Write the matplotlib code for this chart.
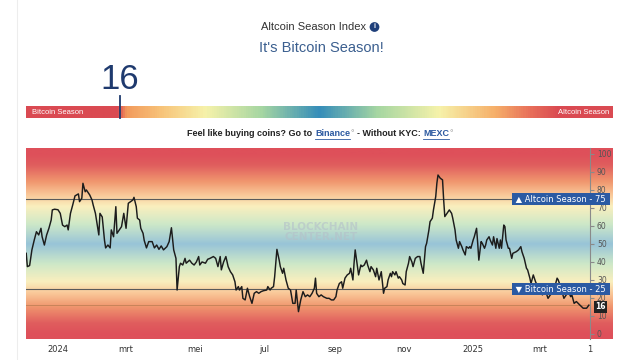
import numpy as np
import pandas as pd
import matplotlib
matplotlib.use("Agg")
import matplotlib.pyplot as plt
import matplotlib.transforms as mtransforms
from matplotlib.colors import LinearSegmentedColormap
from matplotlib.lines import Line2D

start_date = pd.Timestamp("2024-01-01")

# days after 2024-01-01 and the index value
day_offsets = [-28, -27, -25, -23, -21, -19, -17, -15, -14, -12, -10, -8, -6, -5, -3, 0,
               2, 4, 6, 8, 9, 11, 13, 15, 18, 19, 21, 22, 24, 25, 28, 30, 31, 33, 36, 37,
               39, 41, 42, 44, 46, 47, 49, 51, 52, 54, 56, 58, 60, 62, 64, 66, 67, 69, 70,
               72, 73, 75, 76, 78, 80, 83, 85, 87, 89, 91, 93, 96, 98, 100, 102, 104, 105,
               107, 108, 110, 112, 113, 116, 118, 120, 122, 124, 125, 127, 130, 132, 134,
               137, 139, 141, 143, 144, 146, 148, 150, 152, 154, 156, 157, 159, 160, 162,
               163, 165, 167, 169, 171, 173, 175, 177, 179, 181, 184, 185, 187, 188, 190,
               191, 193, 195, 196, 198, 199, 201, 203, 205, 207, 209, 210, 212, 214, 216,
               218, 220, 222, 224, 226, 227, 228, 230, 232, 234, 237, 239, 241, 243, 245,
               246, 248, 250, 251, 253, 255, 257, 258, 260, 261, 262, 264, 265, 267, 268,
               270, 272, 273, 275, 276, 278, 280, 281, 283, 285, 287, 288, 290, 291, 293,
               294, 295, 297, 298, 300, 301, 303, 304, 306, 307, 309, 310, 312, 313, 315,
               317, 319, 320, 322, 324, 325, 327, 328, 330, 331, 333, 334, 335, 337, 339,
               340, 341, 343, 345, 347, 348, 350, 351, 353, 354, 356, 357, 359, 360, 362,
               363, 364, 366, 367, 369, 370, 371, 373, 374, 376, 377, 378, 380, 381, 383,
               384, 386, 387, 389, 390, 391, 393, 394, 395, 397, 398, 400, 401, 404, 406,
               408, 409, 411, 413, 414, 416, 417, 419, 421, 423, 425, 427, 430, 432, 434,
               436, 438, 440, 441, 443, 446, 448, 450, 452, 453, 455, 457, 460, 463, 466,
               468]
index_values = [44.8, 37.4, 38, 46.7, 52, 56.8, 55, 58.7, 54, 49.4, 55, 58.7, 63.3, 68.9,
                69.3, 69, 67, 60.5, 59.6, 60.5, 57.8, 67, 71.7, 76.7, 77.8, 73.5, 75.4, 83.7,
                79, 80, 77.2, 74.4, 71.7, 67, 55, 67, 65, 52, 47.8, 49.4, 47.8, 57.8, 54,
                70.7, 55.9, 57.8, 59.6, 67, 58.7, 72.6, 73.5, 74.4, 75.9, 70.7, 64.3, 63.3,
                58.7, 55.9, 52, 47.8, 51.3, 51.3, 47.8, 49.4, 47, 48.9, 46.7, 48.5, 51.3, 59,
                46.7, 42, 24.4, 37.4, 39.3, 38.3, 42, 39.3, 41, 39.3, 38.3, 40, 43, 38.3, 40,
                39.3, 41.5, 42, 43, 42, 37.4, 43, 35.6, 40, 43, 37.4, 34.6, 32.8, 29, 24.4,
                26.3, 24.4, 26.3, 19.8, 18.9, 25.4, 20.7, 17, 22.6, 23.5, 22.6, 23.5, 24,
                24.4, 26.3, 24.4, 25.4, 26.3, 31.8, 47, 41, 37.4, 33.7, 36.5, 30, 25.4, 24.4,
                17, 17, 24.4, 12.4, 18.9, 23.5, 20.7, 21.7, 20.7, 22.6, 25.4, 31, 22.6, 20.7,
                21.7, 20.7, 19.8, 19.8, 18.9, 18.9, 20.7, 24.4, 28, 29, 25.4, 31, 32.8, 33.7,
                36.5, 30, 39.3, 46.7, 37.4, 32.8, 38.3, 37.4, 38.3, 41, 38.3, 34.6, 37.4,
                35.6, 31.8, 36.5, 30, 34.6, 22.6, 25.4, 26.3, 30, 33.7, 31.8, 34.6, 32.8,
                34.6, 31, 31.8, 30, 28, 27.2, 34.6, 39.3, 43, 40, 37.4, 42, 43, 43, 39.3,
                33.7, 48.5, 50.4, 57.8, 62.4, 64.3, 68.9, 76.3, 83.7, 88.3, 86.5, 85.6, 74.4,
                65.2, 67, 68.9, 67, 64.3, 57.8, 52.2, 47.6, 51.3, 48.5, 46.7, 43.9, 48.5,
                47.6, 48.5, 47.6, 52.2, 54, 58.7, 50.4, 41, 51.3, 50.4, 47.6, 49.4, 52.2, 54,
                52.2, 49.4, 54, 47.6, 53, 47.6, 52.2, 47.6, 60.5, 59.6, 52.2, 47.6, 47.6, 42,
                44.8, 45.7, 46.7, 48.5, 45.7, 42, 36.5, 35.6, 31, 28, 32.8, 29, 26.3, 25.4,
                21.7, 23.5, 19.8, 21.7, 22.6, 26.3, 31, 30, 26.3, 19.8, 21.7, 23.5, 20.7,
                21.7, 17, 18, 16.1, 14.3, 14.3, 16]

current_value = 16
altcoin_level = 75
bitcoin_level = 25

tick_dates = ["2024-01-01", "2024-03-01", "2024-05-01", "2024-07-01", "2024-09-01",
              "2024-11-01", "2025-01-01", "2025-03-01", "2025-04-14"]
tick_labels = ["2024", "mrt", "mei", "jul", "sep", "nov", "2025", "mrt", "1"]
y_ticks = list(range(0, 101, 10))

W, H = 640, 360


def box(x0, y0, x1, y1):
    # pixel box (top-left origin) -> figure rect
    return [x0 / W, 1 - y1 / H, (x1 - x0) / W, (y1 - y0) / H]


fig = plt.figure(figsize=(6.4, 3.6), dpi=100)
fig.patch.set_facecolor("white")
fig.add_artist(Line2D([17 / W, 17 / W], [0, 1], color="#ededed", lw=0.8))

# ---------- header ----------
head_font = "Liberation Sans"
fig.text(366 / W, 1 - 27 / H, "Altcoin Season Index", ha="right", va="center",
         fontsize=8, color="#333333", family=head_font)
fig.text(374.5 / W, 1 - 27 / H, "i", ha="center", va="center", fontsize=5,
         color="white", weight="bold", family=head_font,
         bbox=dict(boxstyle="circle,pad=0.2", fc="#1f3f7a", ec="none"))
fig.text(321 / W, 1 - 48 / H, "It's Bitcoin Season!", ha="center", va="center",
         fontsize=10.5, color="#3b5f8f", family=head_font)

bar_cmap = LinearSegmentedColormap.from_list("bar", [
    (0.0, "#da4a52"), (0.155, "#da4a52"), (0.17, "#f29a5c"), (0.23, "#f8c47a"),
    (0.305, "#f6f2aa"), (0.40, "#a6d6a2"), (0.5, "#358dba"), (0.60, "#a6d6a2"),
    (0.705, "#f6f2aa"), (0.80, "#f6b06a"), (0.86, "#e8705a"), (0.91, "#da4a52"),
    (1.0, "#da4a52")])
ax_bar = fig.add_axes(box(26, 106, 613, 118))
ax_bar.imshow(np.linspace(0, 1, 600)[None, :], aspect="auto", cmap=bar_cmap,
              extent=[0, 100, 0, 1])
ax_bar.set_xlim(0, 100)
ax_bar.set_ylim(0, 1)
ax_bar.axis("off")
ax_bar.text(1, 0.45, "Bitcoin Season", color="white", fontsize=5.5, va="center",
            family=head_font)
ax_bar.text(99.3, 0.45, "Altcoin Season", color="white", fontsize=5.5, va="center",
            ha="right", family=head_font)
bt = mtransforms.blended_transform_factory(ax_bar.transData, ax_bar.transAxes)
ax_bar.plot([current_value, current_value], [0, 1.85], color="#1f3a6e", lw=1.3,
            transform=bt, clip_on=False)
ax_bar.text(current_value, 3.2, str(current_value), transform=bt, ha="center",
            va="center", fontsize=25, color="#1f3a6e", family=head_font)

# promo line, built piece by piece
renderer = fig.canvas.get_renderer()
pieces = [("Feel like buying coins? Go to", "#222222", False, True),
          ("Binance", "#2d5aa0", True, True),
          ("°", "#999999", False, False),
          ("- Without KYC:", "#222222", False, True),
          ("MEXC", "#2d5aa0", True, True),
          ("°", "#999999", False, False)]
gaps = [3, 0, 3, 3, 0, 0]
ypro = 1 - 134 / H
texts = []
total = 0
for (s, c, u, b), g in zip(pieces, gaps):
    t = fig.text(0, ypro, s, color=c, fontsize=6.5, weight="bold" if b else "normal",
                 va="center", family=head_font)
    w = t.get_window_extent(renderer).width
    texts.append((t, w, u))
    total += w + g
x = 320 - total / 2
for (t, w, u), g in zip(texts, gaps):
    t.set_x(x / W)
    if u:
        fig.add_artist(Line2D([x / W, (x + w) / W], [1 - 138.5 / H] * 2,
                              color="#2d5aa0", lw=0.6))
    x += w + g

# ---------- chart ----------
bg_cmap = LinearSegmentedColormap.from_list("bg", [
    (0.0, "#de505a"), (0.06, "#e05e5e"), (0.15, "#f0966e"), (0.22, "#f9c596"),
    (0.29, "#faefbe"), (0.39, "#cde8c8"), (0.5, "#98c4d8"), (0.61, "#cde8c8"),
    (0.71, "#faefbe"), (0.78, "#f9c596"), (0.85, "#f0966e"), (0.94, "#e05e5e"),
    (1.0, "#de505a")])
y_lo, y_hi = -2.8, 103.3
ax_bg = fig.add_axes(box(26, 148, 613, 339))
ax_bg.imshow(np.linspace(y_lo, y_hi, 400)[:, None], aspect="auto", cmap=bg_cmap,
             vmin=0, vmax=100, origin="lower", extent=[0, 1, y_lo, y_hi])
ax_bg.set_ylim(y_lo, y_hi)
ax_bg.axis("off")

fig.text(321 / W, 1 - 232 / H, "BLOCKCHAIN\nCENTER.NET", ha="center",
         va="center", fontsize=7.5, weight="bold", color="#b4c0c9", alpha=0.6,
         linespacing=0.95)

ax = fig.add_axes(box(26, 148, 590, 339))
ax.patch.set_alpha(0)
days = np.array(day_offsets)
ax.set_xlim(-28.2, 468.7)
ax.set_ylim(y_lo, y_hi)

ax.axhline(altcoin_level, color="#5a5a5a", lw=0.8)
ax.axhline(bitcoin_level, color="#5a5a5a", lw=0.8)
ax.axhline(current_value, color="#c8845a", lw=0.7)
ax.plot(days, index_values, color="#1c1c1c", lw=1.05)

for s in ["top", "left", "bottom"]:
    ax.spines[s].set_visible(False)
ax.spines["right"].set_color("#8a8a8a")
ax.spines["right"].set_linewidth(0.8)
ax.yaxis.tick_right()
ax.set_yticks(y_ticks)
ax.tick_params(axis="y", labelsize=5.5, labelcolor="#555555", color="#8a8a8a",
               length=3, pad=2)
tick_pos = [(pd.Timestamp(d) - start_date).days for d in tick_dates]
ax.set_xticks(tick_pos, tick_labels)
ax.tick_params(axis="x", labelsize=6, labelcolor="#333333", length=0, pad=4)

rt = mtransforms.blended_transform_factory(ax.transAxes, ax.transData)
ax.text(1.033, altcoin_level, " ▲ Altcoin Season - 75 ", transform=rt, ha="right",
        va="center", fontsize=6, color="white", zorder=5,
        bbox=dict(boxstyle="square,pad=0.15", fc="#2b5aa3", ec="none"))
ax.text(1.033, bitcoin_level, " ▼ Bitcoin Season - 25 ", transform=rt, ha="right",
        va="center", fontsize=6, color="white", zorder=5,
        bbox=dict(boxstyle="square,pad=0.15", fc="#2b5aa3", ec="none"))
ax.text(1.009, current_value - 1.0, str(current_value), transform=rt, ha="left",
        va="center", fontsize=5.5, color="white", weight="bold", zorder=5,
        bbox=dict(boxstyle="square,pad=0.15", fc="#222222", ec="none"))

fig.savefig("out.png", dpi=100)
